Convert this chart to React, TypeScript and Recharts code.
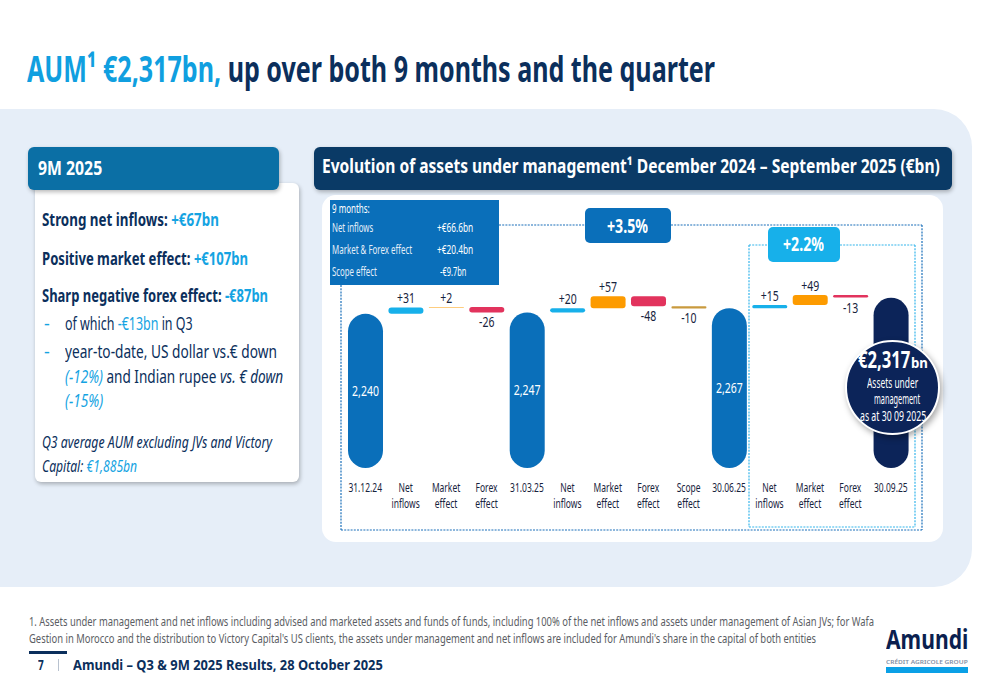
import React, { useLayoutEffect, useRef, useState } from "react";
import { BarChart, Bar, XAxis, YAxis } from "recharts";

// AUM waterfall, €bn
const categories = [
  "31.12.24", "Net\ninflows", "Market\neffect", "Forex\neffect",
  "31.03.25", "Net\ninflows", "Market\neffect", "Forex\neffect", "Scope\neffect",
  "30.06.25", "Net\ninflows", "Market\neffect", "Forex\neffect", "30.09.25",
];
const kinds = [
  "total", "inflows", "market", "forex",
  "total", "inflows", "market", "forex", "scope",
  "total", "inflows", "market", "forex", "total",
];
const values = [2240, 31, 2, -26, 2247, 20, 57, -48, -10, 2267, 15, 49, -13, 2317];

const nineMonthLabels = ["Net inflows", "Market & Forex effect", "Scope effect"];
const nineMonthValues = ["+€66.6bn", "+€20.4bn", "-€9.7bn"];
const growthLabels = ["+3.5%", "+2.2%"];

const BASE = 1500;
const FONT = "'Noto Sans', sans-serif";
const NAVY = "#0b2f5c";
const CYAN = "#14a3e2";
const LABEL = "#17233d";

const kindColor: Record<string, string> = {
  total: "#0a6fba",
  inflows: "#17b0ea",
  market: "#fd9b00",
  forex: "#e2335d",
  scope: "#c99a3e",
};

const lastIndex = values.length - 1;
let level = BASE;
const rows = categories.map((name, i) => {
  const v = values[i];
  const kind = kinds[i];
  if (kind === "total") {
    level = v;
    return { name, kind, range: [BASE, v], label: i === lastIndex ? "" : v.toLocaleString("en-US") };
  }
  const start = level;
  level += v;
  return {
    name,
    kind,
    range: [Math.min(start, level), Math.max(start, level)],
    label: v > 0 ? `+${v}` : `${v}`,
  };
});

function WaterfallBar(props: any) {
  const { x, y, width, height, payload, index } = props;
  const total = payload.kind === "total";
  const fill = index === lastIndex ? "#0c2459" : kindColor[payload.kind];
  const r = total ? width / 2 : Math.min(3, height / 2);
  const cx = x + width / 2;
  let ly = 0;
  let color = LABEL;
  if (total) {
    ly = y + height / 2 + 5;
    color = "#fff";
  } else if (payload.label.startsWith("+")) {
    ly = y - 4;
  } else {
    ly = y + height + 15;
  }
  return (
    <g>
      <rect x={x} y={y} width={width} height={height} rx={r} ry={r} fill={fill} />
      {payload.label && (
        <text
          transform={`translate(${cx},${ly}) scale(0.7,1)`}
          textAnchor="middle"
          fontFamily={FONT}
          fontSize={15}
          fill={color}
        >
          {payload.label}
        </text>
      )}
    </g>
  );
}

function CategoryTick(props: any) {
  const { x, y, payload } = props;
  const lines = String(payload.value).split("\n");
  return (
    <g>
      {lines.map((t, i) => (
        <text
          key={i}
          transform={`translate(${x},${y + 23.5 + i * 16}) scale(0.68,1)`}
          textAnchor="middle"
          fontFamily={FONT}
          fontSize={12.5}
          fill={LABEL}
        >
          {t}
        </text>
      ))}
    </g>
  );
}

type TxtProps = {
  x: number;
  base: number;
  fs: number;
  w?: number;
  k?: number;
  weight?: number;
  italic?: boolean;
  color?: string;
  children: React.ReactNode;
};

// absolutely placed text, squeezed horizontally to a given width
function Txt({ x, base, fs, w, k = 0.7, weight = 400, italic, color = NAVY, children }: TxtProps) {
  const ref = useRef<HTMLSpanElement>(null);
  const [sx, setSx] = useState(k);
  useLayoutEffect(() => {
    if (w && ref.current) setSx(w / ref.current.offsetWidth);
  }, [w]);
  return (
    <span
      ref={ref}
      style={{
        position: "absolute",
        left: x,
        top: base - 0.888 * fs,
        fontSize: fs,
        lineHeight: `${fs}px`,
        fontFamily: FONT,
        fontWeight: weight,
        fontStyle: italic ? "italic" : "normal",
        color,
        whiteSpace: "nowrap",
        transform: `scaleX(${sx})`,
        transformOrigin: "0 0",
      }}
    >
      {children}
    </span>
  );
}

const box = (l: number, t: number, w: number, h: number, extra: React.CSSProperties = {}): React.CSSProperties => ({
  position: "absolute",
  left: l,
  top: t,
  width: w,
  height: h,
  ...extra,
});

function Waterfall() {
  return (
    <div style={box(345, 268, 566, 245)}>
      <BarChart
        width={566}
        height={245}
        data={rows}
        margin={{ top: 0, right: 0, bottom: 0, left: 0 }}
        style={{ overflow: "visible" }}
      >
        <XAxis
          dataKey="name"
          interval={0}
          height={45}
          axisLine={false}
          tickLine={false}
          tickSize={0}
          tickMargin={0}
          tick={<CategoryTick />}
        />
        <YAxis hide type="number" domain={[BASE, 2460]} allowDataOverflow />
        <Bar dataKey="range" barSize={35} shape={<WaterfallBar />} isAnimationActive={false} />
      </BarChart>
    </div>
  );
}

function Frames() {
  const outer = { stroke: "#1a6fba", strokeWidth: 1.2, strokeDasharray: "2 1.2" };
  const inner = { stroke: "#35b5ec", strokeWidth: 1.2, strokeDasharray: "2 1.2" };
  return (
    <svg width={1000} height={685} style={{ position: "absolute", left: 0, top: 0, pointerEvents: "none" }}>
      <line x1={341} y1={285} x2={341} y2={530} {...outer} />
      <line x1={341} y1={530} x2={922} y2={530} {...outer} />
      <line x1={922} y1={225} x2={922} y2={530} {...outer} />
      <line x1={499} y1={225} x2={585} y2={225} {...outer} />
      <line x1={671} y1={225} x2={922} y2={225} {...outer} />
      <line x1={749} y1={245} x2={749} y2={527} {...inner} />
      <line x1={749} y1={527} x2={915} y2={527} {...inner} />
      <line x1={915} y1={245} x2={915} y2={527} {...inner} />
      <line x1={749} y1={245} x2={768} y2={245} {...inner} />
      <line x1={840} y1={245} x2={915} y2={245} {...inner} />
    </svg>
  );
}

export default function App() {
  const shadow = "1px 2px 4px rgba(0,0,0,0.28)";
  return (
    <div style={{ position: "absolute", left: 0, top: 0, width: 1000, height: 685, background: "#fff", overflow: "hidden", fontFamily: FONT }}>
      {/* title */}
      <Txt x={27} base={83} fs={36} w={688} weight={700}>
        <span style={{ color: "#109fe0" }}>AUM¹ €2,317bn,</span> up over both 9 months and the quarter
      </Txt>

      {/* light panel */}
      <div style={box(0, 109, 972, 478, { background: "#e6eef8", borderTopRightRadius: 38, borderBottomRightRadius: 38 })} />

      {/* left card */}
      <div style={box(35, 183, 264, 299, { background: "#fff", borderRadius: 6, boxShadow: shadow })} />
      <div style={box(28, 147, 251, 43, { background: "#0b6fa5", borderRadius: 6, boxShadow: shadow })} />
      <Txt x={38} base={176} fs={19} w={64} weight={700} color="#fff">9M 2025</Txt>

      <Txt x={42} base={226} fs={18.5} w={177} weight={700}>
        Strong net inflows: <span style={{ color: CYAN }}>+€67bn</span>
      </Txt>
      <Txt x={42} base={265} fs={18.5} w={206} weight={700}>
        Positive market effect: <span style={{ color: CYAN }}>+€107bn</span>
      </Txt>
      <Txt x={42} base={302} fs={18.5} w={226} weight={700}>
        Sharp negative forex effect: <span style={{ color: CYAN }}>-€87bn</span>
      </Txt>
      <Txt x={44} base={330} fs={18} w={6} color={CYAN}>-</Txt>
      <Txt x={65} base={330} fs={18} w={128}>
        of which <span style={{ color: CYAN }}>-€13bn</span> in Q3
      </Txt>
      <Txt x={44} base={358} fs={18} w={6} color={CYAN}>-</Txt>
      <Txt x={65} base={358} fs={18} w={212}>year-to-date, US dollar vs.€ down</Txt>
      <Txt x={65} base={383} fs={18} w={218}>
        <span style={{ color: CYAN, fontStyle: "italic" }}>(-12%)</span> and Indian rupee <i>vs. € down</i>
      </Txt>
      <Txt x={65} base={407} fs={18} w={38} italic color={CYAN}>(-15%)</Txt>
      <Txt x={42} base={448} fs={17} w={230} italic>Q3 average AUM excluding JVs and Victory</Txt>
      <Txt x={42} base={472} fs={17} w={95} italic>
        Capital: <span style={{ color: CYAN }}>€1,885bn</span>
      </Txt>

      {/* chart card */}
      <div style={box(314, 147, 638, 43, { background: "#0a3a66", borderRadius: 6, boxShadow: shadow })} />
      <Txt x={322} base={174} fs={20} w={618} weight={700} color="#fff">
        Evolution of assets under management¹ December 2024 – September 2025 (€bn)
      </Txt>
      <div style={box(322, 195, 621, 347, { background: "#fff", borderRadius: 14 })} />

      <Waterfall />
      <Frames />

      {/* 9 months summary */}
      <div style={box(330, 200, 169, 85, { background: "#0a6fba" })} />
      <Txt x={332} base={214} fs={12} w={38} color="#fff">9 months:</Txt>
      {nineMonthLabels.map((t, i) => (
        <React.Fragment key={t}>
          <Txt x={332} base={233 + i * 22} fs={12} w={[41, 80, 45][i]} color="#e4eef8">{t}</Txt>
          <Txt x={i === 2 ? 440 : 437} base={233 + i * 22} fs={12} w={[36, 36, 26][i]} color="#fff">
            {nineMonthValues[i]}
          </Txt>
        </React.Fragment>
      ))}

      {/* growth badges */}
      <div style={box(585, 208, 86, 35, { background: "#0a6fba", borderRadius: 5 })} />
      <Txt x={607} base={234} fs={20} w={41} weight={700} color="#fff">{growthLabels[0]}</Txt>
      <div style={box(768, 227, 72, 35, { background: "#17b0ea", borderRadius: 5 })} />
      <Txt x={783} base={252} fs={20} w={41} weight={700} color="#fff">{growthLabels[1]}</Txt>

      {/* closing AUM bubble */}
      <div
        style={box(845, 340, 95, 95, {
          background: "#0c2459",
          borderRadius: "50%",
          border: "2px solid #fff",
          boxSizing: "border-box",
          boxShadow: "2px 3px 6px rgba(0,0,0,0.35)",
        })}
      />
      <Txt x={858} base={368} fs={23} w={52} weight={700} color="#fff">€2,317</Txt>
      <Txt x={911} base={368} fs={14} w={17} weight={700} color="#fff">bn</Txt>
      <Txt x={867} base={389} fs={13.5} w={51} color="#fff">Assets under</Txt>
      <Txt x={874} base={405} fs={13.5} w={46} color="#fff">management</Txt>
      <Txt x={860} base={422} fs={13.5} w={66} color="#fff">as at 30 09 2025</Txt>

      {/* footnote and footer */}
      <Txt x={29} base={627.5} fs={12.5} w={845} color="#5a5d63">
        1. Assets under management and net inflows including advised and marketed assets and funds of funds, including 100% of the net inflows and assets under management of Asian JVs; for Wafa
      </Txt>
      <Txt x={29} base={644.5} fs={12.5} w={787} color="#5a5d63">
        Gestion in Morocco and the distribution to Victory Capital's US clients, the assets under management and net inflows are included for Amundi's share in the capital of both entities
      </Txt>
      <div style={box(29, 651, 38, 3, { background: NAVY })} />
      <Txt x={38} base={670} fs={15} w={6} weight={700}>7</Txt>
      <div style={box(58, 659, 1, 12, { background: "#b8c2cf" })} />
      <Txt x={73} base={670} fs={15} w={310} weight={700}>
        Amundi – Q3 &amp; 9M 2025 Results, 28 October 2025
      </Txt>

      {/* logo */}
      <Txt x={886} base={649.5} fs={26} w={82} weight={700} color="#0b1f4f">Amundi</Txt>
      <Txt x={886} base={664} fs={6} w={82} weight={600} color="#7f8ea3">CRÉDIT AGRICOLE GROUP</Txt>
      <div style={box(886, 667, 82, 6, { background: "#0aa0e6" })} />
    </div>
  );
}
